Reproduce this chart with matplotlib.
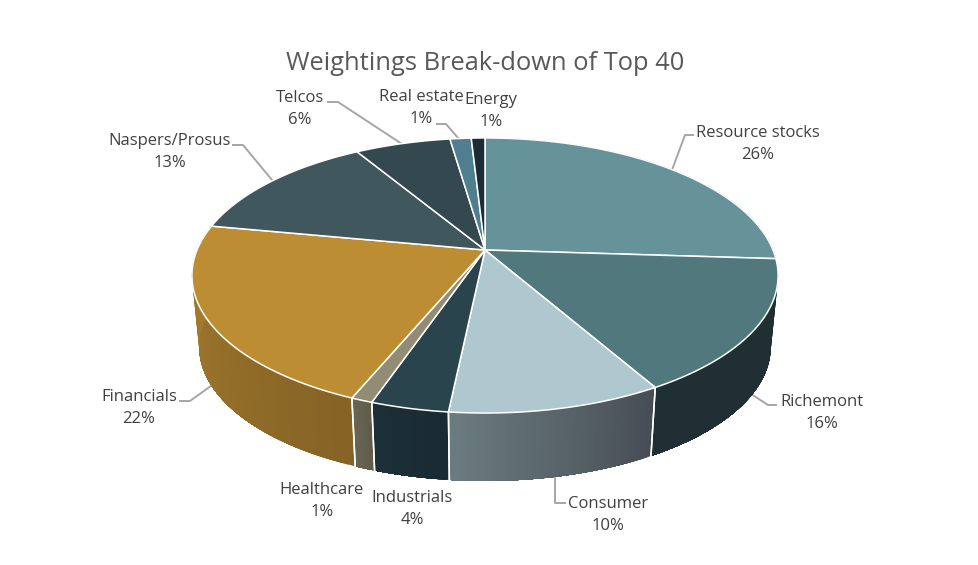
import numpy as np
import matplotlib
matplotlib.use("Agg")
from matplotlib import pyplot as plt
from matplotlib.colors import to_rgb

names = ["Resource stocks", "Richemont", "Consumer", "Industrials", "Healthcare",
         "Financials", "Naspers/Prosus", "Telcos", "Real estate", "Energy"]
weights = [26.0, 15.7, 9.9, 3.6, 1.0, 21.7, 13.4, 6.3, 1.4, 0.9]

top_colors = ["#669299", "#51797D", "#AFC8D0", "#2A444D", "#928C75",
              "#BD8D33", "#3F575D", "#34494F", "#4F7F8E", "#1B2C35"]
wall_left = ["#4A6A70", "#1F2F33", "#6B7C81", "#1C2F37", "#6A6654",
             "#A87F2E", "#2E4045", "#263539", "#3A5C68", "#142027"]
wall_right = ["#4A6A70", "#1F2F33", "#474D55", "#1A2A32", "#5F5B4C",
              "#866326", "#2E4045", "#263539", "#3A5C68", "#142027"]

# label centres and leader lines, in pixels
label_pos = [(758, 144), (822, 413), (608, 515), (412, 509), (322, 501),
             (139, 408), (170, 152), (300, 109), (421, 108), (491, 111)]
leaders = [[(693, 135), (685, 135), (672, 170)],
           [(776, 405), (768, 405), (748, 392)],
           [(565, 503), (555, 503), (555, 476)],
           None, None,
           [(180, 401), (190, 401), (215, 383)],
           [(233, 145), (243, 145), (272, 180)],
           [(328, 102), (338, 102), (402, 144)],
           [(437, 124), (446, 124), (459, 139)],
           None]

# projection of the tilted disc
cx, cy = 485, 250
rx, ry = 288, 132.8
persp = 0.1854
bottom_y = 322
bottom_scale = 0.975


def rim(theta, base=False):
    x = np.sin(theta)
    y = np.cos(theta)
    d = 1 + persp * y
    if base:
        return cx + bottom_scale * rx * x / d, bottom_y - bottom_scale * ry * y / d
    return cx + rx * x / d, cy - ry * y / d


def mix(c1, c2, t):
    c1, c2 = np.array(to_rgb(c1)), np.array(to_rgb(c2))
    return tuple(c1 + (c2 - c1) * t)


fig = plt.figure(figsize=(9.79, 5.65), dpi=100)
ax = fig.add_axes([0, 0, 1, 1])
ax.set_xlim(0, 979)
ax.set_ylim(565, 0)
ax.axis("off")

edges = np.cumsum([0] + weights) / sum(weights) * 2 * np.pi

# leaders sit behind the pie
for line in leaders:
    if line:
        xs, ys = zip(*line)
        ax.plot(xs, ys, color="#A6A6A6", lw=1.4, zorder=1)

# side walls, only the front part can be seen
for i in range(len(weights)):
    t0, t1 = edges[i], edges[i + 1]
    if np.cos(t0) > 0.1 and np.cos(t1) > 0.1:
        continue
    steps = np.linspace(t0, t1, 60)
    for j in range(len(steps) - 1):
        # each strip runs on to the end of the slice, the next one paints over it
        # so no background shows through at the seams
        strip = np.linspace(steps[j], t1, 30)
        xa, ya = rim(strip)
        xb, yb = rim(strip[::-1], True)
        c = mix(wall_right[i], wall_left[i], j / (len(steps) - 2))
        ax.fill(np.r_[xa, xb], np.r_[ya, yb], facecolor=c, edgecolor="none", zorder=2)
    for t in (t0, t1):
        if np.cos(t) < -0.2:
            xa, ya = rim(t)
            xb, yb = rim(t, True)
            ax.plot([xa, xb], [ya, yb], color="white", lw=1.1, zorder=3)

# top face
for i in range(len(weights)):
    steps = np.linspace(edges[i], edges[i + 1], 120)
    xs, ys = rim(steps)
    ax.fill(np.r_[cx, xs], np.r_[cy, ys], facecolor=top_colors[i], edgecolor="white",
            lw=1.1, joinstyle="round", zorder=4)

ax.text(485, 63, "Weightings Break-down of Top 40", ha="center", va="center",
        fontsize=18.4, color="#595959", family="Open Sans")

for i, name in enumerate(names):
    ax.text(label_pos[i][0], label_pos[i][1], f"{name}\n{round(weights[i])}%",
            ha="center", va="center", fontsize=12, color="#404040",
            family="Open Sans", linespacing=1.52, zorder=5)

fig.savefig("out.png", dpi=100)
